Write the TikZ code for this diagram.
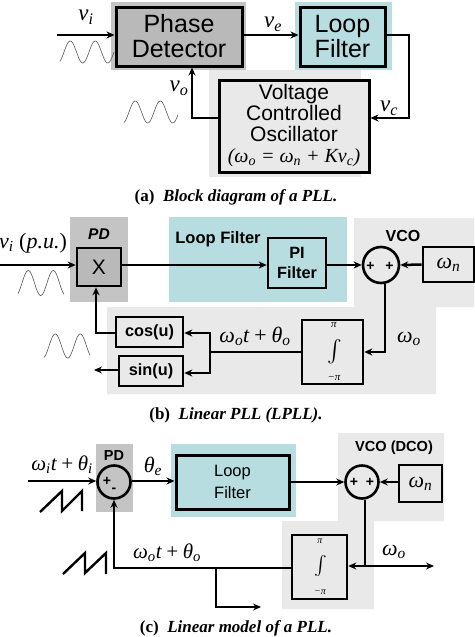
\documentclass[tikz,border=0pt]{standalone}
\usepackage{fontspec}
\usepackage{xcolor}
\usepackage{tikz}
\usetikzlibrary{positioning, arrows.meta}
\setmainfont{Liberation Serif}
\setsansfont{Liberation Sans}
\definecolor{pGray}{HTML}{B9B9B9}
\definecolor{pShade}{HTML}{C4C4C4}
\definecolor{pTeal}{HTML}{B7DDE0}
\definecolor{pLight}{HTML}{E9E9E9}
\definecolor{pWave}{HTML}{555555}
\newcommand{\fsize}[1]{\fontsize{#1}{#1}\selectfont}
\newcommand{\sinewave}[5]{\draw[wave] plot[domain=#1:#2,samples=70,smooth] (\x,{#3-#4*sin((\x-#5)*14.4)});}
\begin{document}
\begin{tikzpicture}[x=1pt,y=-1pt,>=Stealth,
      block/.style={draw=black, line width=3pt, inner sep=0pt, align=center, font=\sffamily\fsize{25}},
      small/.style={draw=black, line width=2.6pt, inner sep=0pt, align=center, font=\sffamily\bfseries\fsize{16.3}},
      backdrop/.style={inner sep=0pt, draw=none},
      summer/.style={circle, draw=black, fill=pLight, line width=2.6pt, inner sep=0pt, minimum size=33pt},
      arrow/.style={-{Stealth[length=8pt,width=7pt]}, line width=2.5pt, black},
      plain/.style={line width=2.5pt, black},
      wave/.style={line width=0.6pt, pWave},
      saw/.style={line width=2.4pt, black, line join=miter},
      sym/.style={inner sep=0pt, font=\itshape\fsize{23}},
      head/.style={inner sep=0pt, font=\sffamily\bfseries\fsize{16}},
      caption/.style={inner sep=0pt, font=\bfseries\fsize{17}}]
      \useasboundingbox (0,0) rectangle (474,637);
      % panel a
      \node[backdrop, fill=pShade, minimum width=135pt, minimum height=68pt] (pdBackA) at (178.5,36) {};
      \node[backdrop, fill=pTeal, minimum width=97pt, minimum height=68pt] (lfBackA) at (343.5,36) {};
      \node[backdrop, fill=pLight, minimum width=152pt, minimum height=107pt] (vcoBackA) at (285,123.5) {};
      \node[block, fill=pGray, minimum width=126pt, minimum height=59pt] (pdA) at (179,36.5) {Phase\\Detector};
      \node[block, fill=pTeal, minimum width=85pt, minimum height=59pt] (lfA) at (342.5,36.5) {Loop\\Filter};
      \node[block, fill=pLight, minimum width=150pt, minimum height=92pt, font=\sffamily\fsize{21}] (vcoA) at (294,126)
        {\\[-6pt]Voltage\\Controlled\\Oscillator\\{\rmfamily\itshape\fsize{20}(ω\textsubscript{o} = ω\textsubscript{n} + Kv\textsubscript{c})}};
      \coordinate (inA) at (57,35);
      \coordinate (turnA) at (192,118);
      \coordinate (cornerA) at (409,35);
      \draw[arrow] (inA) -- (pdA.west |- inA);
      \draw[arrow] (pdA.east |- inA) -- (lfA.west |- inA);
      \draw[arrow] (lfA.east |- inA) -- (cornerA) |- (vcoA.east |- turnA);
      \draw[arrow] (vcoA.west |- turnA) -- (turnA) -- (pdA.south -| turnA);
      \node[sym] (viA) at (86,17) {v\textsubscript{i}};
      \node[sym] (veA) at (273,24) {v\textsubscript{e}};
      \node[sym] (voA) at (179,88) {v\textsubscript{o}};
      \node[sym] (vcA) at (389,108) {v\textsubscript{c}};
      \sinewave{60}{114}{52}{11}{64}
      \sinewave{124}{178}{112}{11}{129}
      \node[caption] (capA) at (236,197) {(a)\ \ \textit{Block diagram of a PLL.}};
      % panel b
      \fill[pLight] (354,218) -- (474,218) -- (474,307) -- (436,307) -- (436,394) -- (107,394) -- (107,307) -- (354,307) -- cycle;
      \node[backdrop, fill=pShade, minimum width=58pt, minimum height=85pt] (pdBackB) at (99,259.5) {};
      \node[backdrop, fill=pTeal, minimum width=178pt, minimum height=85pt] (lfBackB) at (258,259.5) {};
      \node[small, fill=pGray, minimum width=44pt, minimum height=38pt, font=\sffamily\fsize{21}] (mulB) at (99,267) {X};
      \node[small, fill=pTeal, minimum width=58pt, minimum height=50pt] (piB) at (297,263) {PI\\[3pt]Filter};
      \node[summer, minimum size=36pt] (sumB) at (381,265) {};
      \node[small, fill=pLight, minimum width=51pt, minimum height=35pt, font=\rmfamily\itshape\fsize{22}] (wnB) at (448.5,264.5) {ω\textsubscript{n}};
      \node[small, fill=pLight, minimum width=67pt, minimum height=30pt] (cosB) at (149.5,332) {cos(u)};
      \node[small, fill=pLight, minimum width=64pt, minimum height=30pt] (sinB) at (151,371) {sin(u)};
      \node[small, fill=pLight, minimum width=61pt, minimum height=64pt] (intB) at (332.5,352) {};
      \node[inner sep=0pt, font=\sffamily\bfseries\fsize{14}] (plusB) at (380,266) {+\hspace{11pt}+};
      \node[inner sep=0pt, scale=2.2] (intSignB) at (335,352) {$\int$};
      \node[inner sep=0pt, font=\itshape\fsize{11}] (topB) at (334,325) {π};
      \node[inner sep=0pt, font=\itshape\fsize{11}] (botB) at (334,378) {−π};
      \coordinate (inB) at (0,265);
      \coordinate (forkB) at (210,352);
      \coordinate (fbB) at (96,333);
      \coordinate (dropB) at (385,352);
      \coordinate (outB) at (94,370);
      \draw[arrow] (inB) -- (mulB.west |- inB);
      \draw[arrow] (mulB.east |- inB) -- (piB.west |- inB);
      \draw[arrow] (piB.east |- inB) -- (sumB.west);
      \draw[arrow] (wnB.west) -- (sumB.east);
      \draw[arrow] (dropB |- sumB.south) -- (dropB) -- (intB.east |- dropB);
      \draw[plain] (intB.west |- forkB) -- (forkB);
      \draw[arrow] (forkB) |- (cosB.east |- fbB);
      \draw[arrow] (forkB) |- (sinB.east |- 0,373);
      \draw[arrow] (cosB.west |- fbB) -- (fbB) -- (mulB.south -| fbB);
      \draw[arrow] (sinB.west |- outB) -- (outB);
      \node[inner sep=0pt, font=\itshape\fsize{22}] (viB) at (33,243) {v\textsubscript{i}\ {\upshape(}p.u.{\upshape)}};
      \node[inner sep=0pt, font=\sffamily\bfseries\itshape\fsize{15.5}] (pdB) at (99,234) {PD};
      \node[head, font=\sffamily\bfseries\fsize{16.5}] (lfB) at (218,239) {Loop Filter};
      \node[head] (vcoB) at (403,236) {VCO};
      \node[sym, font=\itshape\fsize{22}] (phiB) at (255,336) {ω\textsubscript{o}t\,+\,θ\textsubscript{o}};
      \node[sym, font=\itshape\fsize{22}] (woB) at (409,339) {ω\textsubscript{o}};
      \sinewave{18}{64}{283}{12.5}{22}
      \sinewave{44}{90}{346}{12}{49}
      \node[caption] (capB) at (236,415) {(b)\ \ \textit{Linear PLL (LPLL).}};
      % panel c
      \fill[pLight] (338,433) -- (444,433) -- (444,521) -- (374,521) -- (374,609) -- (282,609) -- (282,521) -- (338,521) -- cycle;
      \node[backdrop, fill=pShade, minimum width=37pt, minimum height=68pt] (pdBackC) at (114.5,478) {};
      \node[backdrop, fill=pTeal, minimum width=125pt, minimum height=73pt] (lfBackC) at (233.5,480.5) {};
      \node[summer, fill=pShade] (sumC) at (114,482) {};
      \node[block, fill=pTeal, minimum width=113pt, minimum height=54pt, font=\sffamily\fsize{16.5}] (lfC) at (232.5,482) {Loop\\[5pt]Filter};
      \node[summer] (addC) at (362,482) {};
      \node[small, fill=pLight, minimum width=43pt, minimum height=37pt, font=\rmfamily\itshape\fsize{22}] (wnC) at (420.5,483.5) {ω\textsubscript{n}};
      \node[small, fill=pLight, minimum width=55pt, minimum height=64pt] (intC) at (319.5,567) {};
      \node[inner sep=0pt, font=\sffamily\bfseries\fsize{14}] (plusC) at (107,481) {+};
      \node[inner sep=0pt, font=\sffamily\bfseries\fsize{14}] (minusC) at (114,490) {-};
      \node[inner sep=0pt, font=\sffamily\bfseries\fsize{14}] (plusD) at (362,482) {+\hspace{8pt}+};
      \node[inner sep=0pt, scale=1.9] (intSignC) at (321,566) {$\int$};
      \node[inner sep=0pt, font=\itshape\fsize{10}] (topC) at (320,541) {π};
      \node[inner sep=0pt, font=\itshape\fsize{10}] (botC) at (320,592) {−π};
      \coordinate (inC) at (28,481);
      \coordinate (fbC) at (114,568);
      \coordinate (tapC) at (216,568);
      \coordinate (dropC) at (365,566);
      \coordinate (outC) at (434,566);
      \coordinate (stubC) at (261,607);
      \draw[arrow] (inC) -- (sumC.west |- inC);
      \draw[arrow] (sumC.east |- inC) -- (lfC.west |- inC);
      \draw[arrow] (lfC.east |- addC) -- (addC.west);
      \draw[arrow] (wnC.west |- addC) -- (addC.east);
      \draw[plain] (dropC |- addC.south) -- (dropC);
      \draw[arrow] (dropC) -- (intC.east |- dropC);
      \draw[arrow] (dropC) -- (outC);
      \draw[arrow] (intC.west |- fbC) -- (fbC) -- (sumC.south);
      \draw[arrow] (tapC) |- (stubC);
      \node[sym, font=\itshape\fsize{21}] (phiC) at (62,465) {ω\textsubscript{i}t\,+\,θ\textsubscript{i}};
      \node[sym, font=\itshape\fsize{22}] (thC) at (153,466) {θ\textsubscript{e}};
      \node[sym, font=\itshape\fsize{21}] (fbLabC) at (167,553) {ω\textsubscript{o}t\,+\,θ\textsubscript{o}};
      \node[sym, font=\itshape\fsize{22}] (woC) at (394,552) {ω\textsubscript{o}};
      \node[head, font=\sffamily\bfseries\fsize{14.5}] (pdC) at (114,456) {PD};
      \node[head, font=\sffamily\bfseries\fsize{14.6}] (vcoC) at (394,448) {VCO (DCO)};
      \draw[saw] (40,512) -- (62,491) -- (62,511) -- (82,491) -- (82,511);
      \draw[saw] (63,574) -- (85,553) -- (85,573) -- (106,553) -- (106,574);
      \node[caption] (capC) at (236,628) {(c)\ \ \textit{Linear model of a PLL.}};
    \end{tikzpicture}
\end{document}
